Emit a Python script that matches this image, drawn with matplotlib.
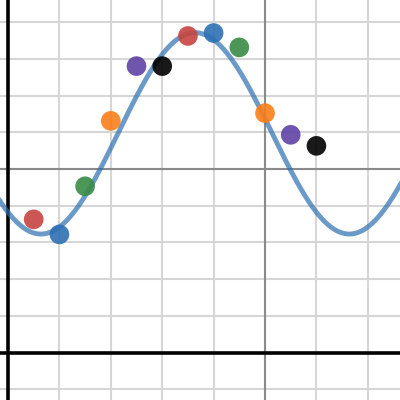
import numpy as np
import matplotlib.pyplot as plt

# Scatter points
x_pts = [-4.5, -4.0, -3.5, -3.0, -2.5, -2.0, -1.5, -1.0, -0.5, 0.0, 0.5, 1.0]
y_pts = [-1.37, -1.78, -0.47, 1.31, 2.80, 2.80, 3.62, 3.70, 3.31, 1.52, 0.93, 0.63]
pt_colors = ['#c74440', '#2d70b3', '#388c46', '#fa7e19', '#6042a6', '#000000',
             '#c74440', '#2d70b3', '#388c46', '#fa7e19', '#6042a6', '#000000']

# Sinusoid fit: amplitude, period, x of peak, midline
amp = 2.74
period = 6.0
x_peak = -1.36
midline = 0.97

fig = plt.figure(figsize=(4, 4), dpi=100)
ax = fig.add_axes([0, 0, 1, 1])
ax.set_xlim(-5.156, 2.626)
ax.set_ylim(-6.286, 4.599)

# grid
for gx in range(-5, 3):
    ax.axvline(gx, color='#d6d6d6', lw=1.5, zorder=0)
for gy in range(-6, 5):
    ax.axhline(gy, color='#d6d6d6', lw=1.5, zorder=0)
ax.axvline(0, color='#8a8a8a', lw=1.5, zorder=1)
ax.axhline(0, color='#8a8a8a', lw=1.5, zorder=1)
ax.axvline(-5, color='black', lw=2.6, zorder=1)
ax.axhline(-5, color='black', lw=2.6, zorder=1)

xs = np.linspace(-5.2, 2.7, 600)
ys = amp * np.cos(2 * np.pi / period * (xs - x_peak)) + midline
ax.plot(xs, ys, color='#2d70b3', alpha=0.7, lw=3.5, solid_capstyle='round', zorder=2)

ax.scatter(x_pts, y_pts, s=200, c=pt_colors, alpha=0.9, linewidths=0, zorder=3)

ax.set_xticks([])
ax.set_yticks([])
for s in ax.spines.values():
    s.set_visible(False)

plt.savefig('out.png', dpi=100)
